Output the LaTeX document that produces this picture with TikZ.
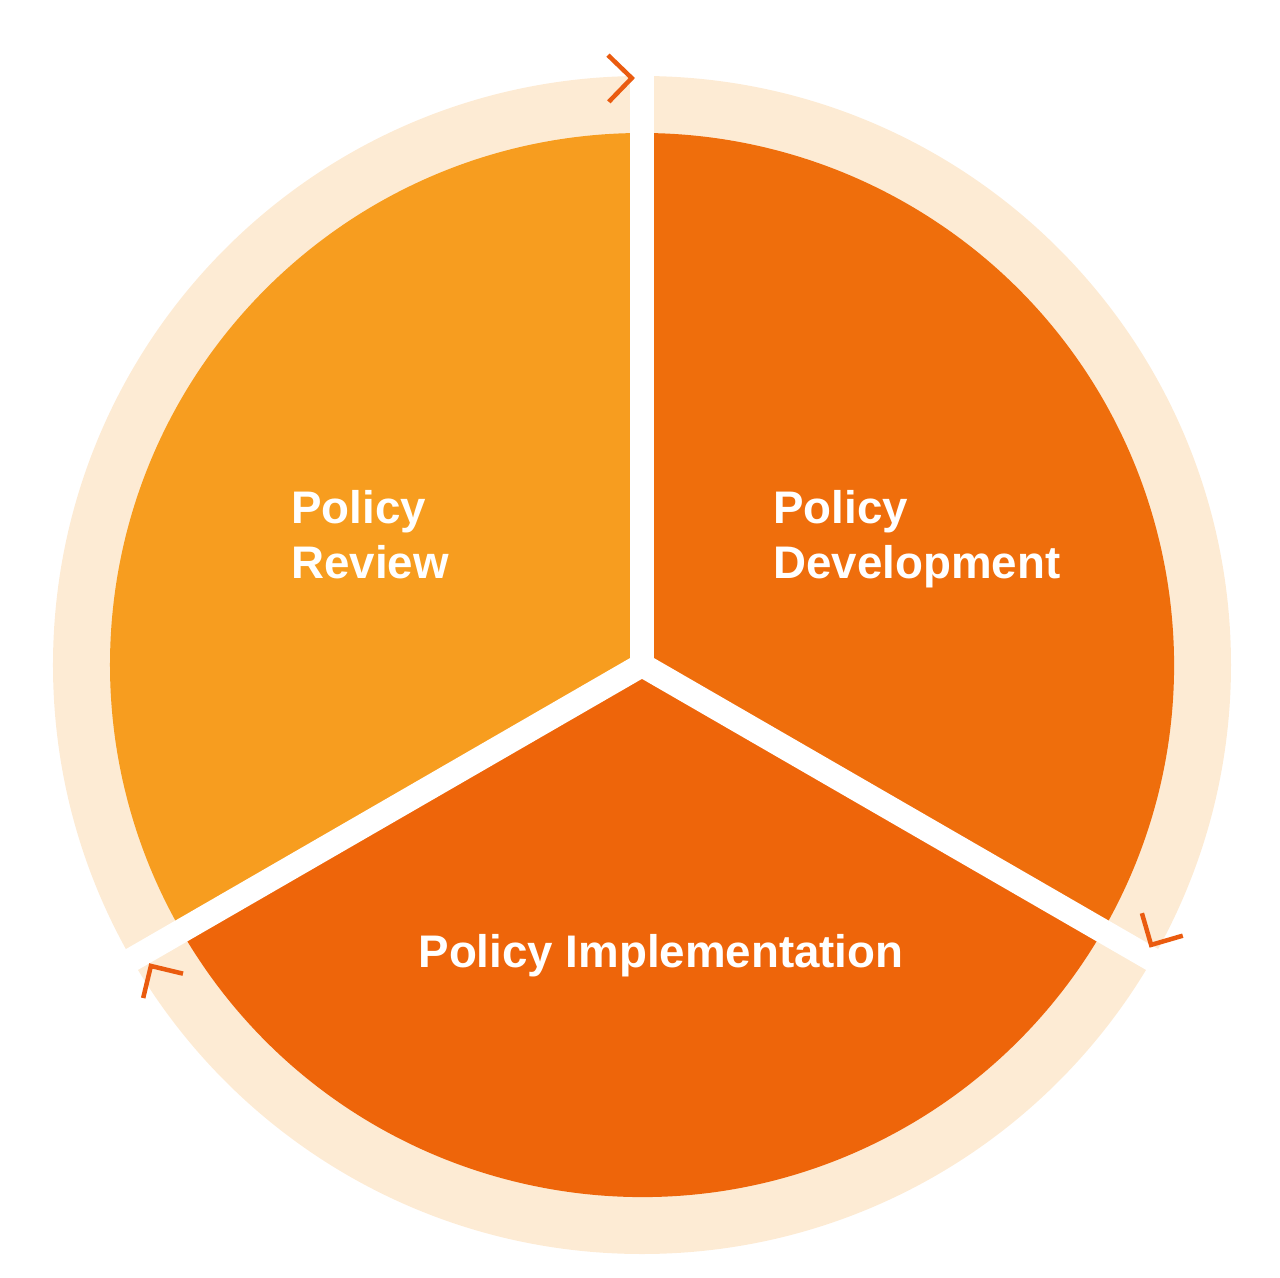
\documentclass[tikz,border=0pt]{standalone}
\usepackage{fontspec}
\setmainfont{Liberation Sans}
\usepackage{xcolor}
\definecolor{ringpale}{HTML}{FDEBD4}
\definecolor{review}{HTML}{F79D1F}
\definecolor{develop}{HTML}{EF6E0C}
\definecolor{implement}{HTML}{EE650A}
\definecolor{chevron}{HTML}{EA5B0F}
\usepackage{tikz}
\usetikzlibrary{positioning, calc}

\tikzset{
  label/.style={text=white, font=\fontsize{26}{31}\selectfont\bfseries, inner sep=0pt, align=left},
  gap/.style={draw=white, line width=0.48cm, shorten <=-0.22cm},
  chev/.style={draw=chevron, line width=0.09cm}
}

\begin{document}
\begin{tikzpicture}[scale=0.2]
  \useasboundingbox (-64.2,-61.2) rectangle (63.8,66.5);

  % Outer pale ring
  \fill[ringpale] (0,0) circle (58.9);

  % Three sectors
  \fill[review] (0,0) -- (90:53.2) arc[start angle=90, end angle=210, radius=53.2] -- cycle;
  \fill[develop] (0,0) -- (-30:53.2) arc[start angle=-30, end angle=90, radius=53.2] -- cycle;
  \fill[implement] (0,0) -- (210:53.2) arc[start angle=210, end angle=330, radius=53.2] -- cycle;

  % White gaps through pie and ring
  \coordinate (c) at (0,0);
  \foreach \a in {90, -30, 210}
    \draw[gap] (c) -- (\a:62);

  % Chevrons along the ring
  \foreach \a/\r in {91/58.7, -28.8/58.1, 211.5/57.6}
    \draw[chev] ($(\a:\r)+(\a+45:3.3)$) -- (\a:\r) -- ($(\a:\r)+(\a+135:3.3)$);

  % Labels
  \node[label, anchor=base west] (review) at (-35.1,8.7) {Policy\\Review};
  \node[label, anchor=base west] (develop) at (13.1,8.7) {Policy\\Development};
  \node[label, anchor=base] (implement) at (1.9,-30.2) {Policy Implementation};
\end{tikzpicture}
\end{document}
